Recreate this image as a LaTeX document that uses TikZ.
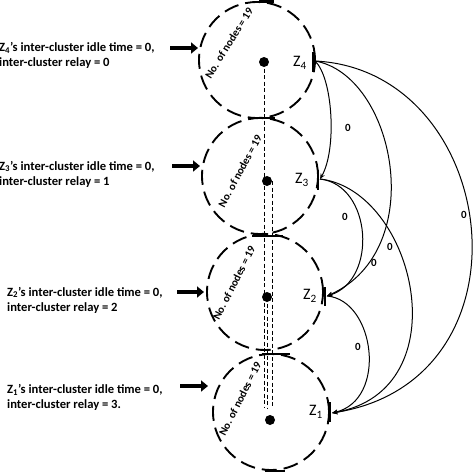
\documentclass[tikz,border=0pt]{standalone}
\usepackage{fontspec}
\setmainfont{Carlito}
\usetikzlibrary{arrows.meta}
\begin{document}
\begin{tikzpicture}[x=1pt,y=-1pt,
  cluster/.style={circle, draw, line width=1.9pt, dash pattern=on 15pt off 7pt, minimum size=116pt, inner sep=0pt},
  headdot/.style={circle, fill, minimum size=10pt, inner sep=0pt},
  route/.style={dash pattern=on 4pt off 2.5pt, line width=0.9pt},
  link/.style={line width=1pt, -{Stealth[length=5.5pt,width=4.5pt]}},
  info/.style={font=\bfseries\fontsize{12.6}{15}\selectfont, align=left, anchor=west, inner sep=0pt},
  bigarrow/.style={line width=4.5pt, -{Triangle[length=7pt,width=11pt]}},
  zlabel/.style={font=\fontsize{16}{18}\selectfont, inner sep=0pt},
  count/.style={font=\bfseries\fontsize{11}{12}\selectfont, inner sep=0pt},
  wt/.style={font=\bfseries\fontsize{11}{12}\selectfont, inner sep=0pt},
  bar/.style={line width=2.5pt},
  tickmark/.style={line width=2.2pt}]
\useasboundingbox (0,0) rectangle (474,474);

% clusters
\node[cluster] (c4) at (257,60) {};
\node[cluster] (c3) at (260,176) {};
\node[cluster] (c2) at (265,292) {};
\node[cluster] (c1) at (271,412) {};

% bars where circles meet
\draw[bar] (259,1.5) -- (274,1.5);
\draw[bar] (248,118) -- (275,118);
\draw[bar] (252,236) -- (283,236);
\draw[bar] (262,354) -- (290,354);
\draw[bar] (265,471) -- (285,471);

% node counts
\node[count, rotate=58] (n4) at (229,43) {No. of nodes = 19};
\node[count, rotate=62] (n3) at (240,171) {No. of nodes = 19};
\node[count, rotate=63] (n2) at (234,283) {No. of nodes = 19};
\node[count, rotate=63] (n1) at (240,399) {No. of nodes = 19};

% routes
\coordinate (e4) at (264,408);
\coordinate (e3) at (272,408);
\coordinate (e2) at (267,408);
\coordinate (d4c) at (264,62);
\coordinate (d3c) at (272,181);
\coordinate (d2c) at (267,297);
\draw[route] (d4c) -- (e4);
\draw[route] (d3c) -- (e3);
\draw[route] (d2c) -- (e2);

% heads
\node[headdot] (d4) at (264,62) {};
\node[headdot] (d3) at (267,181) {};
\node[headdot] (d2) at (267,297) {};
\node[headdot] (d1) at (270,420) {};

% labels Z
\node[zlabel] (z4) at (300,63) {Z\textsubscript{4}};
\node[zlabel] (z3) at (302,180) {Z\textsubscript{3}};
\node[zlabel] (z2) at (310,296) {Z\textsubscript{2}};
\node[zlabel] (z1) at (316,412) {Z\textsubscript{1}};

% ticks
\draw[tickmark] (313,52) -- (313,72);
\draw[tickmark] (318,170) -- (318,190);
\draw[tickmark] (325,287) -- (325,306);
\draw[tickmark] (330,402) -- (330,422);
\coordinate (t4) at (315,61);
\coordinate (t3) at (320,179);
\coordinate (t2) at (327,296);
\coordinate (t1) at (332,413);

% links
\draw[link] (t4) .. controls (333,78) and (337,150) .. (t3);
\draw[link] (t4) .. controls (395,75) and (430,250) .. (t2);
\draw[link] (t4) .. controls (500,70) and (540,380) .. (t1);
\draw[link] (t3) .. controls (372,185) and (378,280) .. (t2);
\draw[link] (t3) .. controls (415,190) and (462,390) .. (t1);
\draw[link] (t2) .. controls (375,300) and (388,400) .. (t1);

\node[wt] (w43) at (348,128) {0};
\node[wt] (w32) at (345,217) {0};
\node[wt] (w41) at (464,215) {0};
\node[wt] (w42) at (374,263) {0};
\node[wt] (w31) at (390,247) {0};
\node[wt] (w21) at (358,347) {0};

% info texts
\node[info] (i4) at (-1,55.5) {Z\textsubscript{4}’s inter-cluster idle time = 0,\\inter-cluster relay = 0};
\node[info] (i3) at (-1,174) {Z\textsubscript{3}’s inter-cluster idle time = 0,\\inter-cluster relay = 1};
\node[info] (i2) at (7,300) {Z\textsubscript{2}’s inter-cluster idle time = 0,\\inter-cluster relay = 2};
\node[info] (i1) at (7,397.5) {Z\textsubscript{1}’s inter-cluster idle time = 0,\\inter-cluster relay = 3.};

% big arrows
\coordinate (a4s) at (170,48); \coordinate (a4e) at (198,48);
\coordinate (a3s) at (172,166); \coordinate (a3e) at (200,166);
\coordinate (a2s) at (177,292); \coordinate (a2e) at (204,292);
\coordinate (a1s) at (180,386); \coordinate (a1e) at (208,386);
\draw[bigarrow] (a4s) -- (a4e);
\draw[bigarrow] (a3s) -- (a3e);
\draw[bigarrow] (a2s) -- (a2e);
\draw[bigarrow] (a1s) -- (a1e);
\end{tikzpicture}
\end{document}
